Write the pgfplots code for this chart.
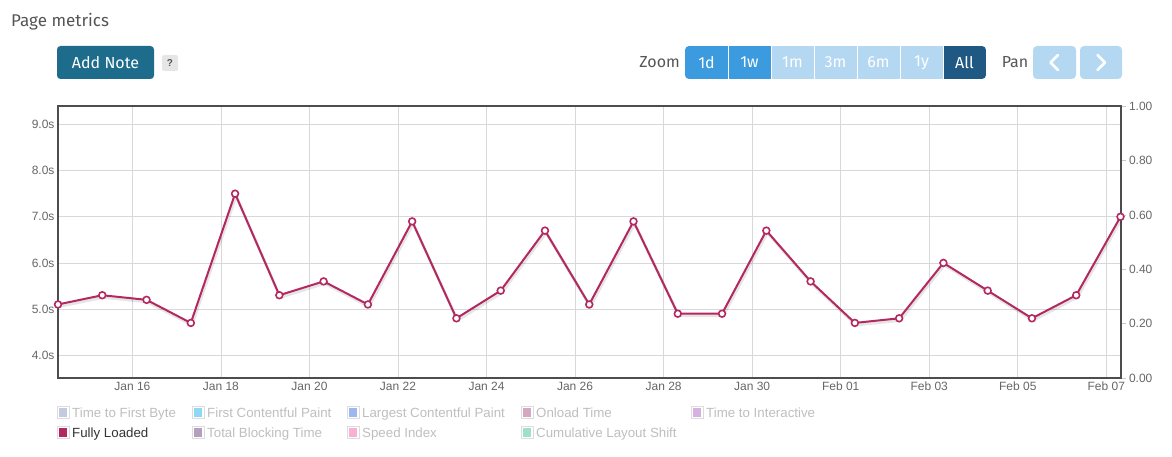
\documentclass[border=0pt]{standalone}
\usepackage{pgfplots}
\pgfplotsset{compat=1.18}
\usepackage{fontspec}
\setmainfont{Liberation Sans}
\newfontfamily\ui{Fira Sans}
\definecolor{fl}{RGB}{180,40,96}
\definecolor{framec}{RGB}{77,77,77}
\definecolor{gridc}{RGB}{216,216,216}
\definecolor{tickc}{RGB}{102,102,102}
\definecolor{tickmarkc}{RGB}{200,200,200}
\definecolor{titlec}{RGB}{85,85,85}
\definecolor{addnote}{RGB}{30,108,140}
\definecolor{zoomon}{RGB}{60,154,222}
\definecolor{zoomoff}{RGB}{180,216,241}
\definecolor{zoomall}{RGB}{31,88,130}
\definecolor{qbox}{RGB}{230,230,230}
\definecolor{legoff}{RGB}{190,190,190}
\definecolor{legon}{RGB}{51,51,51}
\definecolor{legborder}{RGB}{221,221,221}
\definecolor{cTTFB}{RGB}{196,202,224}
\definecolor{cFCP}{RGB}{142,216,246}
\definecolor{cLCP}{RGB}{156,184,238}
\definecolor{cOnload}{RGB}{211,168,193}
\definecolor{cTTI}{RGB}{214,178,226}
\definecolor{cTBT}{RGB}{180,160,190}
\definecolor{cSI}{RGB}{249,176,210}
\definecolor{cCLS}{RGB}{160,223,204}

\pgfplotstableread{
x y
0 5.1
1 5.3
2 5.2
3 4.7
4 7.5
5 5.3
6 5.6
7 5.1
8 6.9
9 4.8
10 5.4
11 6.7
12 5.1
13 6.9
14 4.9
15 4.9
16 6.7
17 5.6
18 4.7
19 4.8
20 6.0
21 5.4
22 4.8
23 5.3
24 7.0
}\fullyloaded

\begin{document}
\begin{tikzpicture}
\useasboundingbox (0,0) rectangle (1172pt,-457pt);

% right axis (0..1)
\begin{axis}[
  at={(58pt,-378.3pt)}, anchor=south west,
  scale only axis, width=1062.5pt, height=272.3pt,
  xmin=0, xmax=24, ymin=0, ymax=1,
  axis x line=none,
  axis y line*=right,
  axis line style={draw=framec, line width=2pt},
  ytick={0,0.2,0.4,0.6,0.8,1},
  yticklabels={0.00,0.20,0.40,0.60,0.80,1.00},
  tick align=outside,
  major tick length=5pt,
  major tick style={draw=tickmarkc, line width=0.8pt},
  yticklabel style={font=\fontsize{12}{14}\selectfont, text=tickc},
]
\addplot[draw=none] coordinates {(0,0)};
\end{axis}

% main axis
\begin{axis}[
  at={(58pt,-378.3pt)}, anchor=south west,
  scale only axis, width=1062.5pt, height=272.3pt,
  xmin=0, xmax=24, ymin=3.5, ymax=9.4,
  clip=false,
  axis line style={draw=framec, line width=2pt},
  xtick={1.68,3.68,5.68,7.68,9.68,11.68,13.68,15.68,17.68,19.68,21.68,23.68},
  xticklabels={Jan 16,Jan 18,Jan 20,Jan 22,Jan 24,Jan 26,Jan 28,Jan 30,Feb 01,Feb 03,Feb 05,Feb 07},
  ytick={4,5,6,7,8,9},
  yticklabels={4.0s,5.0s,6.0s,7.0s,8.0s,9.0s},
  grid=major,
  major grid style={draw=gridc, line width=0.8pt},
  major tick length=0pt,
  tick label style={font=\fontsize{12}{14}\selectfont, text=tickc},
]
\addplot[no markers, draw=black, opacity=0.10, line width=3pt, xshift=1pt, yshift=-2pt] table[x=x,y=y] {\fullyloaded};
\addplot[draw=fl, line width=2pt, mark=*, mark size=3.4pt,
  mark options={fill=white, draw=fl, line width=1.6pt}] table[x=x,y=y] {\fullyloaded};
\end{axis}

\begin{scope}[x=1pt,y=-1pt]
% title
\node[anchor=base west, inner sep=0, text=titlec, font=\ui\fontsize{17}{20}\selectfont] at (11,26.5) {Page metrics};
% Add Note
\fill[addnote, rounded corners=3.5pt] (57,46) rectangle (154,79);
\node[text=white, font=\ui\fontsize{16}{18}\selectfont] at (105.5,62.5) {Add Note};
\fill[qbox, rounded corners=2pt] (162,55) rectangle (178,71);
\node[text=titlec, font=\bfseries\fontsize{10}{12}\selectfont] at (170,63) {?};
% Zoom
\node[anchor=east, inner sep=0, text=titlec, font=\ui\fontsize{16}{18}\selectfont] at (680,62.5) {Zoom};
\begin{scope}
\clip[rounded corners=4pt] (685,46) rectangle (986,79);
\fill[zoomon] (685,46) rectangle (771,79);
\fill[zoomoff] (771,46) rectangle (943,79);
\fill[zoomall] (943,46) rectangle (986,79);
\foreach \s in {728,771,814,857,900,943} \draw[white, line width=1pt] (\s,46) -- (\s,79);
\end{scope}
\foreach \c/\t in {706.5/1d,749.5/1w,792.5/1m,835.5/3m,878.5/6m,921.5/1y,964.5/All}
  \node[text=white, font=\ui\fontsize{16}{18}\selectfont] at (\c,62.5) {\t};
% Pan
\node[inner sep=0, text=titlec, font=\ui\fontsize{16}{18}\selectfont] at (1015,62.5) {Pan};
\fill[zoomoff, rounded corners=4pt] (1033,46) rectangle (1076,79);
\fill[zoomoff, rounded corners=4pt] (1080,46) rectangle (1122,79);
\draw[white, line width=2.6pt, line cap=round, line join=round] (1058,55) -- (1050.5,62.5) -- (1058,70);
\draw[white, line width=2.6pt, line cap=round, line join=round] (1097.5,55) -- (1105,62.5) -- (1097.5,70);

% legend
\foreach \lx/\ly/\col/\txt/\tc in {
  57/412.5/cTTFB/Time to First Byte/legoff,
  192/412.5/cFCP/First Contentful Paint/legoff,
  347/412.5/cLCP/Largest Contentful Paint/legoff,
  521/412.5/cOnload/Onload Time/legoff,
  691/412.5/cTTI/Time to Interactive/legoff,
  57/432.5/fl/Fully Loaded/legon,
  192/432.5/cTBT/Total Blocking Time/legoff,
  347/432.5/cSI/Speed Index/legoff,
  521/432.5/cCLS/Cumulative Layout Shift/legoff}{
  \draw[legborder, line width=0.8pt, fill=white] (\lx,\ly-6) rectangle (\lx+12,\ly+6);
  \fill[\col] (\lx+1.8,\ly-4.2) rectangle (\lx+10.2,\ly+4.2);
  \node[anchor=base west, inner sep=0, text=\tc, font=\fontsize{13.3}{15}\selectfont] at (\lx+15,\ly+4.8) {\txt};
}
\end{scope}
\end{tikzpicture}
\end{document}
